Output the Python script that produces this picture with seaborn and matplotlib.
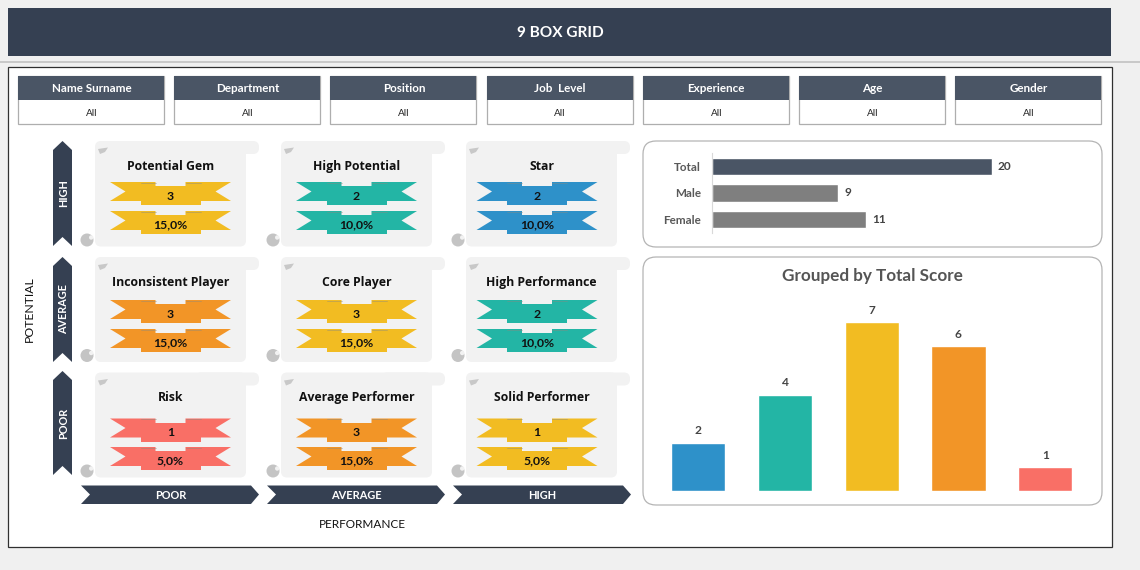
import matplotlib
matplotlib.use("Agg")
import matplotlib.pyplot as plt
import pandas as pd
import seaborn as sns
from matplotlib.patches import Circle, FancyBboxPatch, Polygon, Rectangle

sns.set_theme(style="white")
plt.rcParams["font.family"] = ["Lato", "DejaVu Sans"]

DARK = "#354052"
SLATE = "#4A5565"
YELLOW = "#F2BC22"
TEAL = "#23B5A5"
BLUE = "#2E91C9"
ORANGE = "#F29527"
CORAL = "#F96F66"

filter_names = ["Name Surname", "Department", "Position", "Job  Level", "Experience", "Age", "Gender"]
filter_values = ["All", "All", "All", "All", "All", "All", "All"]

box_titles = [
    ["Potential Gem", "High Potential", "Star"],
    ["Inconsistent Player", "Core Player", "High Performance"],
    ["Risk", "Average Performer", "Solid Performer"],
]
box_counts = [["3", "2", "2"], ["3", "3", "2"], ["1", "3", "1"]]
box_shares = [
    ["15,0%", "10,0%", "10,0%"],
    ["15,0%", "15,0%", "10,0%"],
    ["5,0%", "15,0%", "5,0%"],
]
box_colors = [
    [YELLOW, TEAL, BLUE],
    [ORANGE, YELLOW, TEAL],
    [CORAL, ORANGE, YELLOW],
]
potential_levels = ["HIGH", "AVERAGE", "POOR"]
performance_levels = ["POOR", "AVERAGE", "HIGH"]

gender_labels = ["Total", "Male", "Female"]
gender_values = [20, 9, 11]
gender_colors = [SLATE, "#7F7F7F", "#7F7F7F"]

score_groups = ["G1", "G2", "G3", "G4", "G5"]
score_values = [2, 4, 7, 6, 1]
score_colors = [BLUE, TEAL, YELLOW, ORANGE, CORAL]

W, H = 1140, 570
fig = plt.figure(figsize=(W / 100, H / 100), dpi=100, facecolor="#F0F0F0")


def px_axes(left, top, right, bottom):
    # axes placed by reference pixels
    return fig.add_axes([left / W, 1 - bottom / H, (right - left) / W, (bottom - top) / H])


bg = fig.add_axes([0, 0, 1, 1])
bg.set_xlim(0, W)
bg.set_ylim(H, 0)
bg.axis("off")


def rounded(x0, y0, x1, y1, r, **kw):
    bg.add_patch(FancyBboxPatch((x0 + r, y0 + r), x1 - x0 - 2 * r, y1 - y0 - 2 * r,
                                boxstyle=f"round,pad={r},rounding_size={r}", **kw))


def draw_ribbon(cx, top, color):
    wing_h, drop = 19, 23
    bg.add_patch(Polygon([(cx - 60.5, top), (cx - 15, top), (cx - 15, top + wing_h),
                          (cx - 60.5, top + wing_h), (cx - 45, top + wing_h / 2)], color=color, lw=0))
    bg.add_patch(Polygon([(cx + 60.5, top), (cx + 15, top), (cx + 15, top + wing_h),
                          (cx + 60.5, top + wing_h), (cx + 45, top + wing_h / 2)], color=color, lw=0))
    bg.add_patch(Rectangle((cx - 30, top + 4), 60, drop - 4, color=color, lw=0))
    for a, b in [(cx - 30, cx - 15), (cx + 15, cx + 30)]:
        bg.plot([a, b], [top + 0.8, top + 0.8], color="#8A8A80", lw=0.6, alpha=0.5)


# header and frame
bg.add_patch(Rectangle((8, 8), 1103, 48, color=DARK, lw=0))
bg.text(560.5, 37, "9 BOX GRID", color="white", fontsize=11.1, fontweight="bold", ha="center", va="baseline")
bg.plot([0, W], [62, 62], color="#C8C8C8", lw=1.4)
bg.add_patch(Rectangle((8, 67), 1104, 480, facecolor="white", edgecolor="#303030", lw=0.9))

# filter slicers
for i, name in enumerate(filter_names):
    x = 18 + i * 156.2
    bg.add_patch(Rectangle((x, 76), 146, 48, facecolor="white", edgecolor="#AEAEAE", lw=0.9))
    bg.add_patch(Rectangle((x, 76), 146, 24, color=SLATE, lw=0))
    bg.text(x + 73.5, 92, name, color="white", fontsize=8.4, fontweight="bold", ha="center", va="baseline")
    bg.text(x + 73.5, 116.5, filter_values[i], color="#222222", fontsize=7.2, ha="center", va="baseline")

# 9 boxes
col_left = [95, 281, 466]
ribbon_x = [170.5, 356.5, 537]
row_top = [141, 257, 372.5]
row_bottom = [246.5, 362, 477.5]
title_base = [170, 286, 401]
ribbon_top = [[182, 211], [300, 329], [418.5, 447]]
for r in range(3):
    for c in range(3):
        x, top, bottom = col_left[c], row_top[r], row_bottom[r]
        cx = x + 75.5
        rounded(x + 100, top, x + 164, top + 13, 6, color="#F2F2F2", lw=0)
        rounded(x, top, x + 151, bottom, 6, color="#F2F2F2", lw=0)
        bg.add_patch(Circle((x - 8, bottom - 6.5), 6.5, color="#C4C4C4", lw=0))
        bg.add_patch(Circle((x - 3.8, bottom - 9), 2.2, color="#F2F2F2", lw=0))
        bg.add_patch(Polygon([(x + 3, top + 8), (x + 13, top + 6.5), (x + 10, top + 11),
                              (x + 5, top + 13)], color="#C8C8C8", lw=0))
        bg.text(cx, title_base[r], box_titles[r][c], color="#111111", fontsize=8.85, family="Open Sans",
                fontweight="bold", ha="center", va="baseline")
        for rib, label in zip(ribbon_top[r], [box_counts[r][c], box_shares[r][c]]):
            draw_ribbon(ribbon_x[c], rib, box_colors[r][c])
            bg.text(ribbon_x[c], rib + 17.5, label, color="#111111", fontsize=8.8, fontweight="bold",
                    ha="center", va="baseline")

# potential arrows on the left
arrow_top = [141, 257, 371]
arrow_bottom = [246, 362, 475]
for r, level in enumerate(potential_levels):
    top, bottom = arrow_top[r], arrow_bottom[r]
    bg.add_patch(Polygon([(53, top + 9), (62.5, top), (72, top + 9), (72, bottom),
                          (62.5, bottom - 9), (53, bottom)], color=DARK, lw=0))
    bg.text(67.5, (top + bottom) / 2, level, color="white", fontsize=7.8, fontweight="bold",
            rotation=90, ha="center", va="baseline", rotation_mode="anchor")

# performance chevrons at the bottom
for c, level in enumerate(performance_levels):
    x = 81 + c * 186
    bg.add_patch(Polygon([(x, 485.5), (x + 170, 485.5), (x + 178, 494.5), (x + 170, 504),
                          (x, 504), (x + 9, 494.5)], color=DARK, lw=0))
    bg.text(x + 89.5, 499, level, color="white", fontsize=7.9, fontweight="bold", ha="center", va="baseline")

bg.text(29.5, 309, "POTENTIAL", color="#111111", fontsize=8.8, rotation=90, ha="center", va="center")
bg.text(362, 528, "PERFORMANCE", color="#111111", fontsize=8.5, ha="center", va="baseline")

# chart cards
rounded(643, 141, 1102, 247, 13, facecolor="white", edgecolor="#B4B4B4", lw=0.9)
rounded(643, 257, 1102, 505, 13, facecolor="white", edgecolor="#B4B4B4", lw=0.9)

# gender bars
ax_top = px_axes(712, 153, 1089.5, 233)
gender = pd.DataFrame({"label": gender_labels, "value": gender_values})
sns.barplot(data=gender, y="label", x="value", hue="label", palette=gender_colors, legend=False,
            width=0.65, saturation=1, ax=ax_top)
ax_top.set_xlim(0, 27)
ax_top.set_xlabel("")
ax_top.set_ylabel("")
ax_top.set_xticks([])
ax_top.tick_params(axis="y", length=0, pad=8, labelsize=8.4, labelcolor="#595959")
for tick in ax_top.get_yticklabels():
    tick.set_fontweight("bold")
ax_top.patch.set_alpha(0)
sns.despine(ax=ax_top, left=False, bottom=True)
ax_top.spines["left"].set_color("#D9D9D9")
ax_top.spines["left"].set_linewidth(0.8)
for container in ax_top.containers:
    ax_top.bar_label(container, padding=4.5, fontsize=8.6, fontweight="bold", color="#444444")

# total score columns
ax_score = px_axes(654.7, 298, 1088.6, 491)
score = pd.DataFrame({"group": score_groups, "value": score_values})
sns.barplot(data=score, x="group", y="value", hue="group", palette=score_colors, legend=False,
            width=0.625, saturation=1, ax=ax_score)
ax_score.set_ylim(0, 8)
ax_score.set_xlabel("")
ax_score.set_ylabel("")
ax_score.set_xticks([])
ax_score.set_yticks([])
ax_score.patch.set_alpha(0)
sns.despine(ax=ax_score, left=True, bottom=True)
for container in ax_score.containers:
    ax_score.bar_label(container, padding=4.5, fontsize=8.6, fontweight="bold", color="#444444")
bg.text(872, 281, "Grouped by Total Score", color="#555555", fontsize=12.3, fontweight="bold",
        ha="center", va="baseline")

fig.savefig("out.png", dpi=100, facecolor=fig.get_facecolor())
